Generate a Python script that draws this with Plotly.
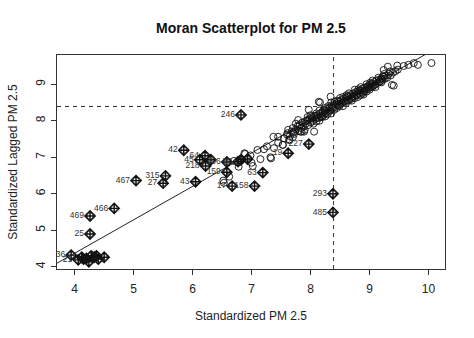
import plotly.graph_objects as go

# ---------------- data ----------------
# ordinary points (standardized PM2.5, spatially lagged)
pts_x = [
    7.60, 7.62, 7.65, 7.68, 7.70, 7.72, 7.75, 7.78, 7.80, 7.82, 7.84, 7.86, 7.88, 7.90, 7.92, 7.94,
    7.96, 7.98, 8.00, 8.02, 8.04, 8.06, 8.08, 8.10, 8.12, 8.14, 8.16, 8.18, 8.20, 8.22, 8.24, 8.26,
    8.28, 8.30, 8.32, 8.34, 8.36, 8.38, 8.40, 8.42, 8.44, 8.46, 8.48, 8.50, 8.52, 8.54, 8.56, 8.58,
    8.60, 8.62, 8.64, 8.66, 8.68, 8.70, 8.72, 8.74, 8.76, 8.78, 8.80, 8.82, 8.84, 8.86, 8.88, 8.90,
    8.92, 8.94, 8.96, 8.98, 9.00, 9.02, 9.04, 9.06, 9.08, 9.10, 9.12, 9.14, 9.16, 9.18, 9.20, 9.22,
    9.24, 9.26, 9.28, 9.30, 9.33, 9.36, 9.40, 9.44, 9.48,
    8.00, 8.05, 8.10, 8.15, 8.20, 8.25, 8.30, 8.35, 8.40, 8.45, 8.50, 8.55, 8.60, 8.65, 8.70, 8.75,
    8.80, 8.85, 8.90, 8.95, 9.00, 9.05, 9.10, 9.15, 9.20, 9.25, 8.45, 8.55, 8.65, 8.75, 8.85, 8.95,
    9.05, 8.35, 8.25, 8.15, 7.95, 7.85, 7.75, 7.70,
    8.03, 8.09, 8.17, 8.23, 8.29, 8.37, 8.43, 8.49, 8.57, 8.63, 8.69, 8.77, 8.83, 8.89, 8.97, 9.03,
    9.09, 9.17, 9.23, 8.41, 8.53, 8.61, 8.71, 8.81, 8.91, 9.01, 8.33, 8.21, 8.11, 7.91, 7.81,
    10.05, 9.82, 9.75, 9.66, 9.58, 9.47, 9.41, 9.24, 9.35, 8.34, 8.16, 7.97, 8.06, 7.89, 7.64, 7.53,
    7.79, 9.38, 9.31, 8.14,
    7.37, 7.45, 7.53, 7.33, 7.02, 6.88, 7.10, 7.21, 7.64, 7.71, 7.61, 7.83, 7.95, 6.52, 7.38, 7.32,
    6.89, 6.94, 6.78, 6.62, 6.53, 7.00, 7.15, 6.70, 6.98, 7.26, 7.45, 7.55,
]
pts_y = [
    7.62, 7.75, 7.58, 7.70, 7.80, 7.64, 7.76, 7.85, 7.72, 7.90, 7.80, 7.95, 7.84, 7.75, 7.92, 8.00,
    7.88, 8.05, 7.95, 8.10, 8.00, 8.12, 8.05, 7.98, 8.15, 8.08, 8.20, 8.12, 8.25, 8.16, 8.28, 8.20,
    8.32, 8.24, 8.36, 8.28, 8.42, 8.34, 8.46, 8.38, 8.48, 8.42, 8.52, 8.45, 8.56, 8.50, 8.60, 8.52,
    8.64, 8.56, 8.68, 8.60, 8.70, 8.63, 8.74, 8.67, 8.78, 8.70, 8.80, 8.74, 8.84, 8.78, 8.88, 8.82,
    8.90, 8.86, 8.94, 8.88, 8.98, 8.92, 9.02, 8.96, 9.06, 9.00, 9.10, 9.04, 9.12, 9.08, 9.16, 9.12,
    9.20, 9.15, 9.24, 9.18, 9.28, 9.24, 9.32, 9.36, 9.40,
    8.15, 7.92, 8.20, 8.00, 8.10, 8.35, 8.40, 8.20, 8.30, 8.55, 8.62, 8.40, 8.48, 8.75, 8.55, 8.85,
    8.65, 8.92, 8.72, 9.00, 8.85, 9.10, 8.92, 9.18, 9.05, 9.28, 8.35, 8.65, 8.55, 8.62, 8.70, 8.80,
    8.92, 8.50, 8.12, 8.28, 8.10, 7.70, 7.92, 7.55,
    8.06, 8.14, 8.10, 8.30, 8.18, 8.38, 8.44, 8.40, 8.55, 8.66, 8.60, 8.72, 8.82, 8.76, 8.92, 9.00,
    8.98, 9.06, 9.22, 8.52, 8.48, 8.70, 8.66, 8.86, 8.80, 9.04, 8.30, 8.22, 8.08, 7.98, 7.86,
    9.58, 9.53, 9.58, 9.53, 9.50, 9.51, 8.96, 9.39, 9.35, 8.66, 8.50, 8.30, 7.70, 7.70, 7.47, 7.34,
    8.02, 8.98, 9.48, 8.52,
    7.56, 7.56, 7.34, 6.97, 6.76, 7.11, 7.20, 7.22, 7.49, 7.68, 7.66, 7.70, 8.02, 6.36, 7.25, 7.00,
    7.09, 6.97, 6.74, 6.47, 6.30, 6.85, 6.95, 6.90, 7.05, 7.30, 7.40, 7.52,
]

# influential points (marked with diamonds) and their labels
inf_x = [6.82, 5.85, 6.21, 6.12, 6.22, 6.31, 6.58, 6.77, 6.82, 6.93, 6.58, 6.05, 5.54, 5.50,
         6.67, 7.05, 7.19, 7.62, 7.97, 5.04, 4.67, 4.26, 4.26, 3.94, 4.06,
         4.12, 4.20, 4.28, 4.33, 4.40, 4.24, 4.50, 4.15, 4.37, 8.38, 8.38]
inf_y = [8.16, 7.19, 7.04, 6.93, 6.76, 6.93, 6.87, 6.88, 6.93, 6.95, 6.59, 6.33, 6.49, 6.29,
         6.21, 6.21, 6.58, 7.11, 7.36, 6.36, 5.60, 5.39, 4.90, 4.32, 4.19,
         4.26, 4.23, 4.30, 4.26, 4.21, 4.14, 4.26, 4.21, 4.30, 6.00, 5.49]
inf_labels = ["246", "42", "64", "45", "218", "", "106", "30", "", "", "159", "43", "315", "27",
              "17", "158", "63", "19", "227", "467", "466", "469", "25", "36", "21",
              "", "", "", "", "", "", "", "", "", "293", "485"]

x_mean = 8.39
y_mean = 8.39
slope = 0.915
x_ticks = [4, 5, 6, 7, 8, 9, 10]
y_ticks = [4, 5, 6, 7, 8, 9]
x_range = [3.70, 10.28]
y_range = [3.94, 9.80]

# ---------------- figure ----------------
fig = go.Figure()

# regression line through the means
line_x = [x_range[0], x_range[1]]
line_y = [y_mean + slope * (v - x_mean) for v in line_x]
fig.add_trace(go.Scatter(x=line_x, y=line_y, mode="lines",
                         line=dict(color="#222", width=1), hoverinfo="skip"))

fig.add_trace(go.Scatter(x=pts_x, y=pts_y, mode="markers",
                         marker=dict(symbol="circle-open", size=7, color="#111",
                                     line=dict(width=0.9, color="#111"))))

fig.add_trace(go.Scatter(x=inf_x, y=inf_y, mode="markers",
                         marker=dict(symbol="circle-open", size=6, color="#555",
                                     line=dict(width=0.9, color="#555"))))
fig.add_trace(go.Scatter(x=inf_x, y=inf_y, mode="markers+text",
                         text=inf_labels, textposition="middle left",
                         textfont=dict(family="Liberation Sans, Arial", size=8.5, color="#333"),
                         marker=dict(symbol="diamond-cross-open", size=8, color="#111",
                                     line=dict(width=1.4, color="#111"))))

fig.add_shape(type="line", x0=x_mean, x1=x_mean, y0=0, y1=1, yref="paper",
              line=dict(color="#333", width=1, dash="4px,4px"))
fig.add_shape(type="line", y0=y_mean, y1=y_mean, x0=0, x1=1, xref="paper",
              line=dict(color="#333", width=1, dash="4px,4px"))

axis_common = dict(showgrid=False, zeroline=False, showline=True, mirror=True,
                   linecolor="#333", linewidth=1, ticks="outside", ticklen=5,
                   tickcolor="#333", tickfont=dict(size=12, color="#222"))
fig.update_xaxes(range=x_range, tickvals=x_ticks, ticklabelstandoff=4,
                 title=dict(text="Standardized PM 2.5", font=dict(size=12, color="#222"), standoff=16),
                 **axis_common)
fig.update_yaxes(range=y_range, tickvals=y_ticks, tickangle=-90, ticklabelstandoff=1,
                 title=dict(text="Standardized Lagged PM 2.5", font=dict(size=12, color="#222"), standoff=14),
                 **axis_common)

fig.update_layout(
    width=474, height=338,
    margin=dict(l=55, r=29, t=55, b=69),
    paper_bgcolor="white", plot_bgcolor="white",
    showlegend=False,
    font=dict(family="Liberation Sans, Arial, sans-serif", color="#222"),
    title=dict(text="<b>Moran Scatterplot for PM 2.5</b>", x=0.5, xanchor="center",
               xref="paper", y=1 - 28 / 338, yanchor="middle",
               font=dict(size=14, color="#111")),
)

fig.write_html("out.html")
